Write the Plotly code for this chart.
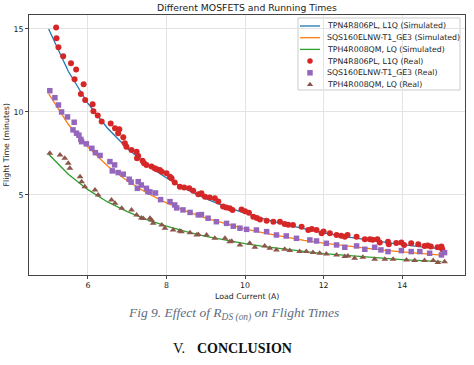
import plotly.graph_objects as go

# ---------------- data ----------------
sim_x = [5.0, 5.5, 6.0, 6.5, 7.0, 7.5, 8.0, 8.5, 9.0, 9.5, 10.0,
         10.5, 11.0, 11.5, 12.0, 12.5, 13.0, 13.5, 14.0, 14.5, 15.0]
sim_tpn = [15.0, 12.45, 10.51, 9.02, 7.82, 6.82, 6.02, 5.35, 4.78, 4.30, 3.90,
           3.54, 3.23, 2.96, 2.72, 2.51, 2.33, 2.16, 2.01, 1.88, 1.76]
sim_sqs = [11.10, 9.26, 7.88, 6.74, 5.86, 5.12, 4.52, 4.03, 3.61, 3.27, 2.96,
           2.70, 2.47, 2.27, 2.10, 1.95, 1.81, 1.68, 1.57, 1.47, 1.38]
sim_tph = [7.45, 6.25, 5.32, 4.58, 4.00, 3.52, 3.12, 2.79, 2.51, 2.27, 2.07,
           1.89, 1.73, 1.60, 1.47, 1.37, 1.27, 1.19, 1.11, 1.04, 0.98]

real_tpn_x = [5.19, 5.20, 5.25, 5.37, 5.57, 5.66, 5.70, 5.82, 5.89, 5.93,
              6.12, 6.14, 6.25, 6.35, 6.58, 6.69, 6.77, 6.80, 6.90, 6.94,
              6.98, 7.11, 7.24, 7.25, 7.28, 7.39, 7.43, 7.49, 7.62, 7.70,
              7.75, 7.83, 7.88, 8.00, 8.09, 8.13, 8.21, 8.34, 8.45, 8.58,
              8.68, 8.81, 8.89, 8.98, 9.10, 9.23, 9.32, 9.44, 9.52, 9.61,
              9.68, 9.91, 10.00, 10.10, 10.21, 10.30, 10.38, 10.55, 10.72, 10.89,
              11.01, 11.10, 11.22, 11.44, 11.61, 11.70, 11.82, 11.95, 12.00, 12.16,
              12.33, 12.45, 12.54, 12.61, 12.84, 13.05, 13.18, 13.25, 13.37, 13.43,
              13.64, 13.66, 13.85, 13.98, 14.05, 14.23, 14.41, 14.57, 14.65, 14.73,
              14.90, 15.00, 15.02]
real_tpn_y = [15.08, 14.44, 13.90, 13.36, 12.93, 11.97, 12.55, 11.08, 11.67, 10.72,
              10.46, 10.04, 9.78, 9.42, 9.30, 9.02, 8.72, 8.96, 8.48, 8.11,
              7.91, 7.71, 7.61, 7.21, 7.35, 7.06, 6.91, 6.81, 6.71, 6.61,
              6.55, 6.51, 6.40, 6.31, 6.10, 6.00, 5.75, 5.50, 5.45, 5.40,
              5.25, 5.05, 5.10, 4.90, 4.85, 4.80, 4.60, 4.30, 4.25, 4.20,
              4.09, 4.13, 4.02, 3.93, 3.69, 3.62, 3.53, 3.45, 3.39, 3.39,
              3.25, 3.20, 3.19, 3.09, 2.89, 2.95, 2.89, 2.69, 2.80, 2.69,
              2.59, 2.55, 2.49, 2.59, 2.49, 2.33, 2.33, 2.30, 2.33, 2.13,
              2.19, 2.03, 2.10, 2.13, 1.99, 2.09, 2.03, 1.93, 1.95, 1.89,
              1.85, 1.89, 1.73]

real_sqs_x = [5.03, 5.16, 5.25, 5.33, 5.48, 5.62, 5.65, 5.71, 5.77, 5.82,
              5.84, 5.96, 6.10, 6.19, 6.31, 6.56, 6.62, 6.68, 6.77, 6.90,
              7.05, 7.10, 7.26, 7.28, 7.36, 7.49, 7.53, 7.58, 7.72, 7.85,
              8.09, 8.21, 8.26, 8.42, 8.60, 8.81, 8.89, 9.06, 9.27, 9.53,
              9.70, 9.87, 10.04, 10.29, 10.55, 10.80, 11.05, 11.31, 11.65, 11.82,
              12.07, 12.33, 12.54, 12.84, 13.05, 13.30, 13.46, 13.64, 13.98, 14.23,
              14.45, 14.70, 15.00, 15.08]
real_sqs_y = [11.28, 10.86, 10.42, 10.00, 9.70, 8.92, 9.38, 8.72, 8.60, 8.35,
              8.21, 8.08, 7.81, 7.55, 7.38, 7.01, 6.45, 6.81, 6.35, 6.25,
              5.95, 5.77, 5.40, 5.80, 5.60, 5.40, 5.20, 5.18, 5.12, 4.72,
              4.60, 4.40, 4.22, 4.10, 3.95, 3.80, 3.82, 3.60, 3.39, 3.29,
              3.12, 3.00, 2.93, 2.89, 2.79, 2.59, 2.53, 2.39, 2.29, 2.23,
              2.09, 1.99, 1.85, 1.93, 1.73, 1.85, 1.69, 1.59, 1.65, 1.59,
              1.59, 1.49, 1.39, 1.53]

real_tph_x = [5.03, 5.29, 5.41, 5.50, 5.54, 5.80, 5.84, 5.92, 6.18, 6.26,
              6.60, 6.69, 6.86, 7.11, 7.24, 7.36, 7.41, 7.58, 7.62, 7.66,
              7.88, 7.96, 8.17, 8.34, 8.38, 8.60, 8.77, 8.81, 9.02, 9.23,
              9.49, 9.61, 9.66, 9.87, 10.12, 10.25, 10.50, 10.63, 10.80, 11.01,
              11.14, 11.39, 11.56, 11.73, 11.90, 12.07, 12.33, 12.54, 12.62, 12.79,
              13.00, 13.30, 13.56, 13.77, 14.11, 14.32, 14.57, 14.79, 14.91, 15.08]
real_tph_y = [7.51, 7.41, 7.21, 6.91, 6.61, 6.10, 5.80, 5.50, 5.30, 5.00,
              4.70, 4.50, 4.20, 4.09, 3.80, 3.62, 3.58, 3.60, 3.50, 3.29,
              3.19, 3.00, 2.89, 2.83, 2.79, 2.72, 2.59, 2.62, 2.59, 2.39,
              2.39, 2.19, 2.22, 1.99, 2.09, 1.85, 1.93, 1.79, 1.69, 1.73,
              1.65, 1.59, 1.59, 1.53, 1.49, 1.45, 1.39, 1.29, 1.32, 1.19,
              1.25, 1.13, 1.13, 1.13, 1.09, 1.05, 1.05, 1.05, 0.93, 0.98]

x_ticks = [6, 8, 10, 12, 14]
y_ticks = [5, 10, 15]

sim_names = ["TPN4R806PL, L1Q (Simulated)", "SQS160ELNW-T1_GE3 (Simulated)",
             "TPH4R008QM, LQ (Simulated)"]
real_names = ["TPN4R806PL, L1Q (Real)", "SQS160ELNW-T1_GE3 (Real)",
              "TPH4R008QM, LQ (Real)"]

# ---------------- styles ----------------
line_colors = ["#1f77b4", "#ff7f0e", "#2ca02c"]
mark_colors = ["#d62728", "#9467bd", "#8c564b"]
mark_symbols = ["circle", "square", "triangle-up"]
mark_sizes = [6, 5.5, 6]
FONT = "DejaVu Sans"

fig = go.Figure()
for ys, name, col in zip([sim_tpn, sim_sqs, sim_tph], sim_names, line_colors):
    fig.add_trace(go.Scatter(x=sim_x, y=ys, mode="lines", name=name,
                             line=dict(color=col, width=1.3), showlegend=False))
for xs, ys, name, col, sym, sz in zip(
        [real_tpn_x, real_sqs_x, real_tph_x], [real_tpn_y, real_sqs_y, real_tph_y],
        real_names, mark_colors, mark_symbols, mark_sizes):
    fig.add_trace(go.Scatter(x=xs, y=ys, mode="markers", name=name,
                             marker=dict(color=col, symbol=sym, size=sz, line=dict(width=0)),
                             showlegend=False))

# ---------------- custom legend (matplotlib-like) ----------------
W, H = 474, 365
L, R, T, B = 29, 9, 15, 90
PW, PH = W - L - R, H - T - B


def px2x(px):
    return (px - L) / PW


def py2y(py):
    return (H - B - py) / PH


rows = [26 + 11.7 * i for i in range(6)]
leg_names = sim_names + real_names
shapes = [dict(type="rect", xref="paper", yref="paper",
               x0=px2x(298), x1=px2x(460), y0=py2y(90), y1=py2y(18),
               line=dict(color="#cccccc", width=1), fillcolor="rgba(255,255,255,0.85)",
               layer="between")]
for i in range(3):
    shapes.append(dict(type="line", xref="paper", yref="paper",
                       x0=px2x(300), x1=px2x(320), y0=py2y(rows[i]), y1=py2y(rows[i]),
                       line=dict(color=line_colors[i], width=1.3)))
for i in range(3):
    fig.add_trace(go.Scatter(x=[px2x(310)], y=[py2y(rows[3 + i])], mode="markers",
                             xaxis="x2", yaxis="y2", showlegend=False, hoverinfo="skip",
                             marker=dict(color=mark_colors[i], symbol=mark_symbols[i],
                                         size=5.5, line=dict(width=0))))

annotations = []
for i, nm in enumerate(leg_names):
    annotations.append(dict(text=nm, xref="paper", yref="paper", x=px2x(325), y=py2y(rows[i]),
                            xanchor="left", yanchor="middle", showarrow=False,
                            font=dict(family=FONT, size=7.8, color="#222222")))

# axis titles
annotations.append(dict(text="Load Current (A)", xref="paper", yref="paper",
                        x=0.5, y=py2y(296), xanchor="center", yanchor="middle",
                        showarrow=False, font=dict(family=FONT, size=7.8, color="#222222")))
annotations.append(dict(text="Flight Time (minutes)", xref="paper", yref="paper",
                        x=px2x(5.5), y=0.5, xanchor="center", yanchor="middle", textangle=-90,
                        showarrow=False, font=dict(family=FONT, size=7.8, color="#222222")))
# caption + section heading
annotations.append(dict(text="<i>Fig 9. Effect of R<sub>DS (on)</sub> on Flight Times</i>",
                        xref="paper", yref="paper", x=px2x(233), y=py2y(314),
                        xanchor="center", yanchor="middle", showarrow=False,
                        font=dict(family="Liberation Serif", size=13.5, color="#5d6d80")))
annotations.append(dict(text="V.", xref="paper", yref="paper", x=px2x(171), y=py2y(348),
                        xanchor="left", yanchor="middle", showarrow=False,
                        font=dict(family="Liberation Serif", size=14.5, color="#111111")))
annotations.append(dict(text="<b>CONCLUSION</b>", xref="paper", yref="paper", x=px2x(195),
                        y=py2y(348), xanchor="left", yanchor="middle", showarrow=False,
                        font=dict(family="Liberation Serif", size=14, color="#111111")))

axis_common = dict(showgrid=True, gridcolor="#e3e3e3", gridwidth=1, zeroline=False,
                   showline=True, linecolor="#444444", linewidth=1, mirror=True,
                   ticks="outside", ticklen=3, tickwidth=1, tickcolor="#444444",
                   automargin=False,
                   tickfont=dict(family=FONT, size=7.8, color="#222222"))

fig.update_layout(
    width=W, height=H, autosize=False,
    margin=dict(l=L, r=R, t=T, b=B, pad=0, autoexpand=False),
    paper_bgcolor="white", plot_bgcolor="white",
    title=dict(text="Different MOSFETS and Running Times", x=0.5, xref="paper",
               y=1 - 7.5 / H, yref="container", xanchor="center", yanchor="middle",
               automargin=False,
               font=dict(family=FONT, size=9.3, color="#222222")),
    xaxis=dict(range=[4.5, 15.6], tickvals=x_ticks, ticktext=[str(v) for v in x_ticks],
               **axis_common),
    yaxis=dict(range=[0.18, 15.84], tickvals=y_ticks, ticktext=[str(v) for v in y_ticks],
               **axis_common),
    xaxis2=dict(overlaying="x", anchor="y2", range=[0, 1], visible=False, fixedrange=True,
                automargin=False),
    yaxis2=dict(overlaying="y", anchor="x2", range=[0, 1], visible=False, fixedrange=True,
                automargin=False),
    shapes=shapes,
    annotations=annotations,
    showlegend=False,
)

fig.write_html("out.html", config={"displayModeBar": False},
               post_script="document.body.style.margin='0';document.body.style.padding='0';")
